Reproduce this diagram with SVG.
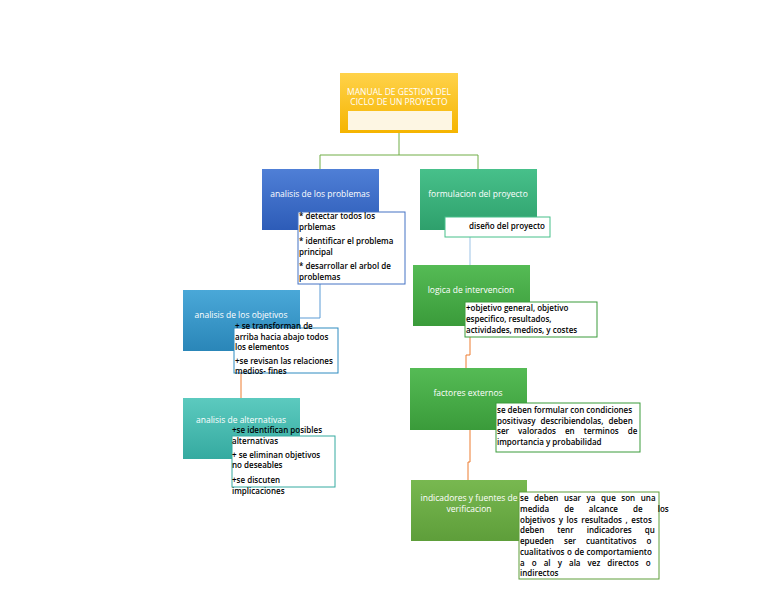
<svg xmlns="http://www.w3.org/2000/svg" width="768" height="594" viewBox="0 0 768 594">
<defs>
<linearGradient id="gy" x1="0" y1="0" x2="0" y2="1"><stop offset="0" stop-color="#ffd24a"/><stop offset="1" stop-color="#f5b400"/></linearGradient>
<linearGradient id="gb" x1="0" y1="0" x2="0" y2="1"><stop offset="0" stop-color="#4f7fd6"/><stop offset="1" stop-color="#2d5cb8"/></linearGradient>
<linearGradient id="gt" x1="0" y1="0" x2="0" y2="1"><stop offset="0" stop-color="#4aa8d8"/><stop offset="1" stop-color="#2a86b8"/></linearGradient>
<linearGradient id="gc" x1="0" y1="0" x2="0" y2="1"><stop offset="0" stop-color="#5ccabf"/><stop offset="1" stop-color="#35aaa0"/></linearGradient>
<linearGradient id="ge" x1="0" y1="0" x2="0" y2="1"><stop offset="0" stop-color="#47c08a"/><stop offset="1" stop-color="#2ea06c"/></linearGradient>
<linearGradient id="gg" x1="0" y1="0" x2="0" y2="1"><stop offset="0" stop-color="#55bb55"/><stop offset="1" stop-color="#3a9b3a"/></linearGradient>
<linearGradient id="gl" x1="0" y1="0" x2="0" y2="1"><stop offset="0" stop-color="#78b850"/><stop offset="1" stop-color="#5e9e3a"/></linearGradient>
</defs>
<style>
.n{font-family:"Open Sans","Liberation Sans",sans-serif;font-size:8.5px;fill:#fff;text-anchor:middle}
.t{font-family:"Open Sans","Liberation Sans",sans-serif;font-size:8px;fill:#000;font-weight:600}
.b{fill:#fff;stroke-width:1}
</style>
<rect width="768" height="594" fill="#fff"/>
<g id="connectors" fill="none" stroke-width="1">
<path d="M399 133V155M320 155H478M320 155V169M478 155V169" stroke="#70ad47"/>
<path d="M470 237V265" stroke="#9dc3e6"/>
<path d="M320 284V318H300" stroke="#5b9bd5"/>
<path d="M470 337V355H466V368" stroke="#ed7d31"/>
<path d="M470 430V462H468V480" stroke="#ed7d31"/>
<path d="M241 373V398" stroke="#ed7d31"/>
</g>
<g id="root"><rect x="340" y="73" width="118" height="60" fill="url(#gy)"/><rect x="348" y="111" width="104" height="19" fill="#fdf6e3"/>
<text class="n" x="399" y="95" font-size="7.5">MANUAL DE GESTION DEL</text><text class="n" x="399" y="105" font-size="7.5">CICLO DE UN PROYECTO</text></g>
<g id="problemas"><rect x="262" y="169" width="117" height="61" fill="url(#gb)"/><text class="n" x="320" y="197">analisis de los problemas</text>
<rect class="b" x="298" y="212" width="107" height="72" stroke="#4472c4"/>
<text class="t" x="299" y="219">* detectar todos los</text><text class="t" x="299" y="230">prblemas</text>
<text class="t" x="299" y="244">* identificar el problema</text><text class="t" x="299" y="255">principal</text>
<text class="t" x="299" y="269">* desarrollar el arbol de</text><text class="t" x="299" y="280">problemas</text></g>
<g id="formulacion"><rect x="420" y="169" width="117" height="61" fill="url(#ge)"/><text class="n" x="478" y="197">formulacion del proyecto</text>
<rect class="b" x="445" y="217" width="105" height="20" stroke="#47c08a" fill="#f4fbf7"/><text class="t" x="507" y="229" text-anchor="middle">diseño del proyecto</text></g>
<g id="objetivos"><rect x="183" y="290" width="117" height="61" fill="url(#gt)"/><text class="n" x="241" y="318">analisis de los objetivos</text>
<rect class="b" x="234" y="328" width="104" height="45" stroke="#2e8bc0"/>
<text class="t" x="235" y="329">+ se transforman de</text><text class="t" x="235" y="340">arriba hacia abajo todos</text><text class="t" x="235" y="350">los elementos</text>
<text class="t" x="235" y="364">+se revisan las relaciones</text><text class="t" x="235" y="374">medios- fines</text></g>
<g id="alternativas"><rect x="183" y="398" width="117" height="61" fill="url(#gc)"/><text class="n" x="241" y="423">analisis de alternativas</text>
<rect class="b" x="232" y="436" width="103" height="51" stroke="#35aaa0"/>
<text class="t" x="232" y="433">+se identifican posibles</text><text class="t" x="232" y="444">alternativas</text>
<text class="t" x="232" y="458">+ se eliminan objetivos</text><text class="t" x="232" y="468">no deseables</text>
<text class="t" x="232" y="483">+se discuten</text><text class="t" x="232" y="494">implicaciones</text></g>
<g id="logica"><rect x="413" y="265" width="117" height="61" fill="url(#gg)"/><text class="n" x="471" y="293">logica de intervencion</text>
<rect class="b" x="465" y="302" width="132" height="35" stroke="#3a9b3a"/>
<text class="t" x="466" y="311">+objetivo general, objetivo</text><text class="t" x="466" y="322">especifico, resultados,</text><text class="t" x="466" y="333">actividades, medios, y costes</text></g>
<g id="factores"><rect x="410" y="368" width="117" height="62" fill="url(#gg)"/><text class="n" x="468" y="396">factores externos</text>
<rect class="b" x="496" y="403" width="144" height="49" stroke="#3a9b3a"/>
<text class="t" x="497" y="413">se deben formular con condiciones</text><text class="t" x="497" y="424" word-spacing="3">positivasy describiendolas, deben</text><text class="t" x="497" y="434" word-spacing="7">ser valorados en terminos de</text><text class="t" x="497" y="445">importancia y probabilidad</text></g>
<g id="indicadores"><rect x="411" y="480" width="116" height="61" fill="url(#gl)"/><text class="n" x="469" y="501">indicadores y fuentes de</text><text class="n" x="469" y="512">verificacion</text>
<rect class="b" x="519" y="492" width="140" height="87" stroke="#5e9e3a"/>
<text class="t" x="520" y="501" word-spacing="3.5">se deben usar ya que son una</text><text class="t" x="520" y="512" word-spacing="13">medida de alcance de los</text><text class="t" x="520" y="523" word-spacing="1.5">objetivos y los resultados , estos</text><text class="t" x="520" y="533" word-spacing="11">deben tenr indicadores qu</text><text class="t" x="520" y="544" word-spacing="8">epueden ser cuantitativos o</text><text class="t" x="520" y="555" word-spacing="0.5">cualitativos o de comportamiento</text><text class="t" x="520" y="566" word-spacing="5">a o al y ala vez directos o</text><text class="t" x="520" y="576">indirectos</text></g>
</svg>
